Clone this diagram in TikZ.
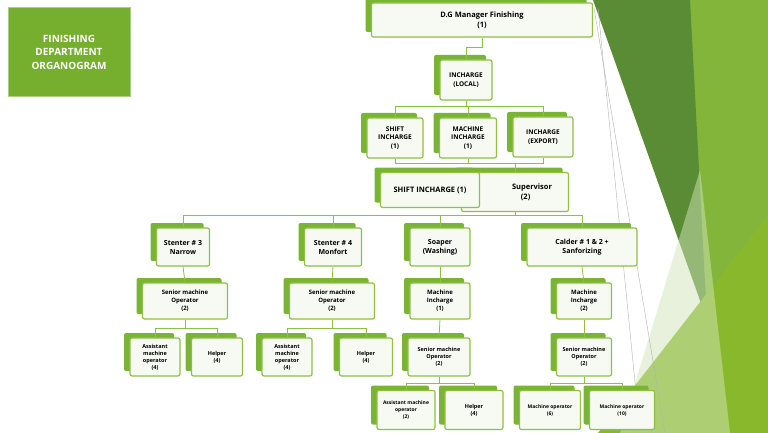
\documentclass[tikz,border=0pt]{standalone}
\usepackage{fontspec}
\setmainfont{Open Sans}
\usetikzlibrary{shadows}
\definecolor{gback}{HTML}{7AB435}
\definecolor{gline}{HTML}{8DC044}
\definecolor{gfront}{HTML}{F7FAF2}
\definecolor{dkg}{HTML}{5A8C36}
\definecolor{mdg}{HTML}{82B53A}
\definecolor{lgg}{HTML}{8AB82C}
\definecolor{ttl}{HTML}{76AE2E}
\tikzset{
 box/.style={draw=gline, line width=1.2pt, fill=gfront, rounded corners=2pt, align=center, inner sep=1pt,
   general shadow={fill=gback, shadow xshift=-6pt, shadow yshift=5pt}},
 big/.style={box, font=\fontsize{7.5}{9.5}\selectfont\bfseries},
 mid/.style={box, font=\fontsize{7}{9}\selectfont\bfseries},
 sml/.style={box, font=\fontsize{5.5}{7}\selectfont\bfseries},
 conn/.style={draw=gline, line width=0.8pt}
}
\begin{document}
\begin{tikzpicture}[x=1pt,y=-1pt]
\useasboundingbox (0,0) rectangle (768,433);
\fill[white] (0,0) rectangle (768,433);
% decoration
\fill[mdg] (688,0) -- (768,0) -- (768,433) -- (705,433) -- cycle;
\fill[dkg] (593,0) -- (690,0) -- (707,320) -- cycle;
\fill[lgg] (598,433) -- (768,433) -- (768,215) -- cycle;
\fill[gback!35!white,opacity=0.5] (620,433) -- (700,170) -- (730,433) -- cycle;
\draw[gray!60,line width=0.4pt] (594,8) -- (665,433);
\draw[gray!60,line width=0.4pt] (598,8) -- (640,433);
% title
\node[fill=ttl, draw=ttl!60!white, line width=0.8pt, minimum width=122, minimum height=89, align=center,
  text=white, font=\fontsize{10}{13.5}\selectfont\bfseries] (title) at (69,52) {FINISHING\\DEPARTMENT\\ORGANOGRAM};
% nodes
\node[big, minimum width=221, minimum height=34] (dg) at (482,20) {D.G Manager Finishing\\(1)};
\node[big, minimum width=52, minimum height=40, font=\fontsize{6.5}{8.5}\selectfont\bfseries] (loc) at (466,80) {INCHARGE\\(LOCAL)};
\node[big, minimum width=56, minimum height=40, font=\fontsize{6.5}{8.5}\selectfont\bfseries] (sh) at (395,138) {SHIFT\\INCHARGE\\(1)};
\node[big, minimum width=57, minimum height=40, font=\fontsize{6.5}{8.5}\selectfont\bfseries] (mi) at (468,138) {MACHINE\\INCHARGE\\(1)};
\node[big, minimum width=60, minimum height=40, font=\fontsize{6.5}{8.5}\selectfont\bfseries] (ex) at (543,137) {INCHARGE\\(EXPORT)};
\node[big, minimum width=107, minimum height=39, text width=100, align=right] (sup) at (515,192) {Supervisor\phantom{xxx}\\(2)\phantom{xxxxxxxx}};
\node[big, minimum width=99, minimum height=35] (si) at (430,190) {SHIFT INCHARGE (1)};
\node[mid, minimum width=53, minimum height=38] (s3) at (183,247) {Stenter \# 3\\Narrow};
\node[mid, minimum width=57, minimum height=38] (s4) at (333,247) {Stenter \# 4\\Monfort};
\node[mid, minimum width=60, minimum height=38] (so) at (440,247) {Soaper\\(Washing)};
\node[mid, minimum width=110, minimum height=38] (ca) at (582,247) {Calder \# 1 \& 2 +\\Sanforizing};
\node[sml, minimum width=85, minimum height=36, font=\fontsize{6}{8}\selectfont\bfseries] (ra) at (185,301) {Senior machine\\Operator\\(2)};
\node[sml, minimum width=85, minimum height=36, font=\fontsize{6}{8}\selectfont\bfseries] (rb) at (332,301) {Senior machine\\Operator\\(2)};
\node[sml, minimum width=60, minimum height=36, font=\fontsize{6}{8}\selectfont\bfseries] (rc) at (440,301) {Machine\\Incharge\\(1)};
\node[sml, minimum width=55, minimum height=36, font=\fontsize{6}{8}\selectfont\bfseries] (rd) at (584,301) {Machine\\Incharge\\(2)};
\node[sml, minimum width=50, minimum height=38] (a1) at (155,357) {Assistant\\machine\\operator\\(4)};
\node[sml, minimum width=51, minimum height=38] (h1) at (217,357) {Helper\\(4)};
\node[sml, minimum width=50, minimum height=38] (a2) at (287,357) {Assistant\\machine\\operator\\(4)};
\node[sml, minimum width=53, minimum height=38] (h2) at (366,357) {Helper\\(4)};
\node[sml, minimum width=62, minimum height=38] (so3) at (439,357) {Senior machine\\Operator\\(2)};
\node[sml, minimum width=55, minimum height=38] (ca3) at (584,357) {Senior machine\\Operator\\(2)};
\node[sml, minimum width=58, minimum height=39, font=\fontsize{5}{7}\selectfont\bfseries] (q1) at (406,410) {Assistant machine\\operator\\(2)};
\node[sml, minimum width=58, minimum height=39] (q2) at (474,410) {Helper\\(4)};
\node[sml, minimum width=61, minimum height=39, font=\fontsize{5}{7}\selectfont\bfseries] (q3) at (550,410) {Machine operator\\(6)};
\node[sml, minimum width=65, minimum height=39, font=\fontsize{5}{7}\selectfont\bfseries] (q4) at (622,410) {Machine operator\\(10)};
% connectors
\draw[conn] (dg.south) -- (dg.south|-0,47) -| (loc.north);
\foreach \c in {sh,mi,ex} \draw[conn] (loc.south) -- (loc.south|-0,106) -| (\c.north);
\foreach \c in {sh,mi,ex} \draw[conn] (\c.south) -- (\c.south|-0,163) -| (sup.north);
\foreach \c in {s3,s4,so,ca} \draw[conn] (sup.south) -- (sup.south|-0,215) -| (\c.north);
\draw[conn] (s3.south) -- (ra.north);
\draw[conn] (s4.south) -- (rb.north);
\draw[conn] (so.south) -- (rc.north);
\draw[conn] (ca.south) -- (rd.north);
\draw[conn] (rc.south) -- (so3.north);
\draw[conn] (rd.south) -- (ca3.north);
\foreach \c in {a1,h1} \draw[conn] (ra.south) -- (ra.south|-0,328) -| (\c.north);
\foreach \c in {a2,h2} \draw[conn] (rb.south) -- (rb.south|-0,328) -| (\c.north);
\foreach \c in {q1,q2} \draw[conn] (so3.south) -- (so3.south|-0,383) -| (\c.north);
\foreach \c in {q3,q4} \draw[conn] (ca3.south) -- (ca3.south|-0,383) -| (\c.north);
\end{tikzpicture}
\end{document}
